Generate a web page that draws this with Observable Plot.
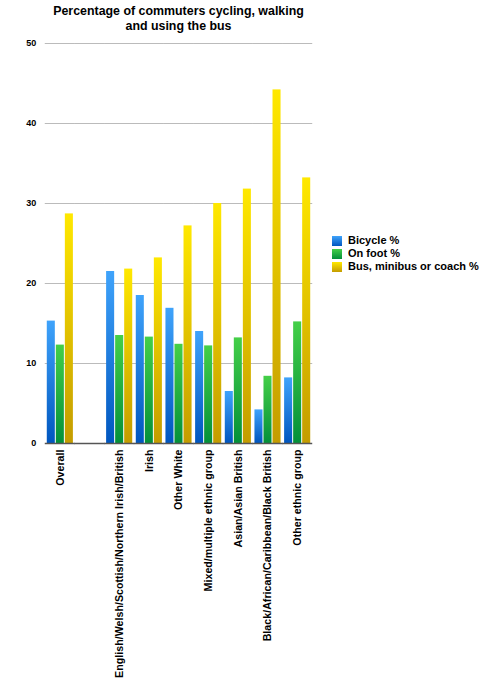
<!DOCTYPE html>
<html>
<head>
<meta charset="utf-8">
<script src="https://cdn.jsdelivr.net/npm/d3@7"></script>
<script src="https://cdn.jsdelivr.net/npm/@observablehq/plot@0.6"></script>
<style>
  body { margin: 0; background: #fff; font-family: "Liberation Sans", Arial, sans-serif; }
  #wrap { position: relative; width: 494px; height: 687px; }
  #title { height: 38px; width: 357px; text-align: center; font-weight: bold; font-size: 12.4px; line-height: 15px; padding-top: 4px; box-sizing: border-box; color: #000; }
  #legend { position: absolute; left: 332px; top: 234px; font-weight: bold; font-size: 11px; line-height: 13px; color: #000; }
  #legend div { display: flex; align-items: center; }
  #legend span.sw { width: 10px; height: 10px; margin-right: 6px; display: inline-block; }
</style>
</head>
<body>
<div id="wrap">
  <div id="title">Percentage of commuters cycling, walking<br>and using the bus</div>
  <div id="chart"></div>
  <div id="legend"></div>
</div>
<script>
// 카테고리와 값
const categories = ["Overall", "English/Welsh/Scottish/Northern Irish/British", "Irish", "Other White",
  "Mixed/multiple ethnic group", "Asian/Asian British", "Black/African/Caribbean/Black British", "Other ethnic group"];
const series = ["Bicycle %", "On foot %", "Bus, minibus or coach %"];
const bicycle = [15.3, 21.5, 18.5, 16.9, 14.0, 6.5, 4.2, 8.2];
const onFoot = [12.3, 13.5, 13.3, 12.4, 12.2, 13.2, 8.4, 15.2];
const bus = [28.7, 21.8, 23.2, 27.2, 30.0, 31.8, 44.2, 33.2];
const yTicks = [0, 10, 20, 30, 40, 50];

// 그라데이션 색
const gradients = [
  {id: "g0", top: "#3fa3fb", bottom: "#0056bf"},
  {id: "g1", top: "#44cf48", bottom: "#03903a"},
  {id: "g2", top: "#ffe800", bottom: "#c49c00"}
];

const values = [bicycle, onFoot, bus];
const data = [];
series.forEach((s, i) => {
  categories.forEach((c, j) => data.push({category: c, series: s, value: values[i][j]}));
});

// 빈 칸 하나 (Overall 뒤)
const fxDomain = [categories[0], " ", ...categories.slice(1)];

// 격자선은 빈 칸까지 포함해 모든 패싯에 그림
const grid = fxDomain.flatMap(c => yTicks.filter(t => t > 0).map(t => ({category: c, tick: t})));
const base = fxDomain.map(c => ({category: c, tick: 0}));

const chart = Plot.plot({
  width: 494,
  height: 649,
  marginTop: 5,
  marginLeft: 45,
  marginRight: 182,
  marginBottom: 244,
  style: {fontFamily: "'Liberation Sans', Arial, sans-serif", color: "#000"},
  fx: {domain: fxDomain, paddingInner: 0.12, paddingOuter: 0.06, round: false, label: null},
  x: {domain: series, axis: null, paddingInner: 0.11, paddingOuter: 0, round: false},
  y: {domain: [0, 50], axis: null},
  marks: [
    // 패싯 사이 틈을 메우도록 양옆으로 살짝 늘림
    Plot.ruleY(grid, {fx: "category", y: "tick", stroke: "#bbb", strokeWidth: 1, insetLeft: -2, insetRight: -2}),
    ...series.map((s, i) => Plot.barY(data.filter(d => d.series === s), {
      fx: "category",
      x: "series",
      y: "value",
      fill: `url(#${gradients[i].id})`
    })),
    Plot.ruleY(base, {fx: "category", y: "tick", stroke: "#555", strokeWidth: 1.5, insetLeft: -2, insetRight: -2}),
    Plot.axisY({ticks: yTicks, tickSize: 0, tickPadding: 11, fontSize: 9, fontWeight: "bold", label: null, facetAnchor: "left"}),
    Plot.axisFx({anchor: "bottom", tickRotate: -90, tickSize: 0, tickPadding: 6, fontSize: 10.7, fontWeight: "bold", label: null})
  ]
});

const defs = d3.select(chart).insert("defs", ":first-child");
gradients.forEach(g => {
  const lg = defs.append("linearGradient").attr("id", g.id)
    .attr("x1", 0).attr("y1", 0).attr("x2", 0).attr("y2", 1);
  lg.append("stop").attr("offset", "0%").attr("stop-color", g.top);
  lg.append("stop").attr("offset", "100%").attr("stop-color", g.bottom);
});

document.getElementById("chart").appendChild(chart);

// 범례
const legend = d3.select("#legend");
series.forEach((s, i) => {
  const row = legend.append("div");
  row.append("span").attr("class", "sw")
    .style("background", `linear-gradient(${gradients[i].top}, ${gradients[i].bottom})`);
  row.append("span").text(s);
});
</script>
</body>
</html>
